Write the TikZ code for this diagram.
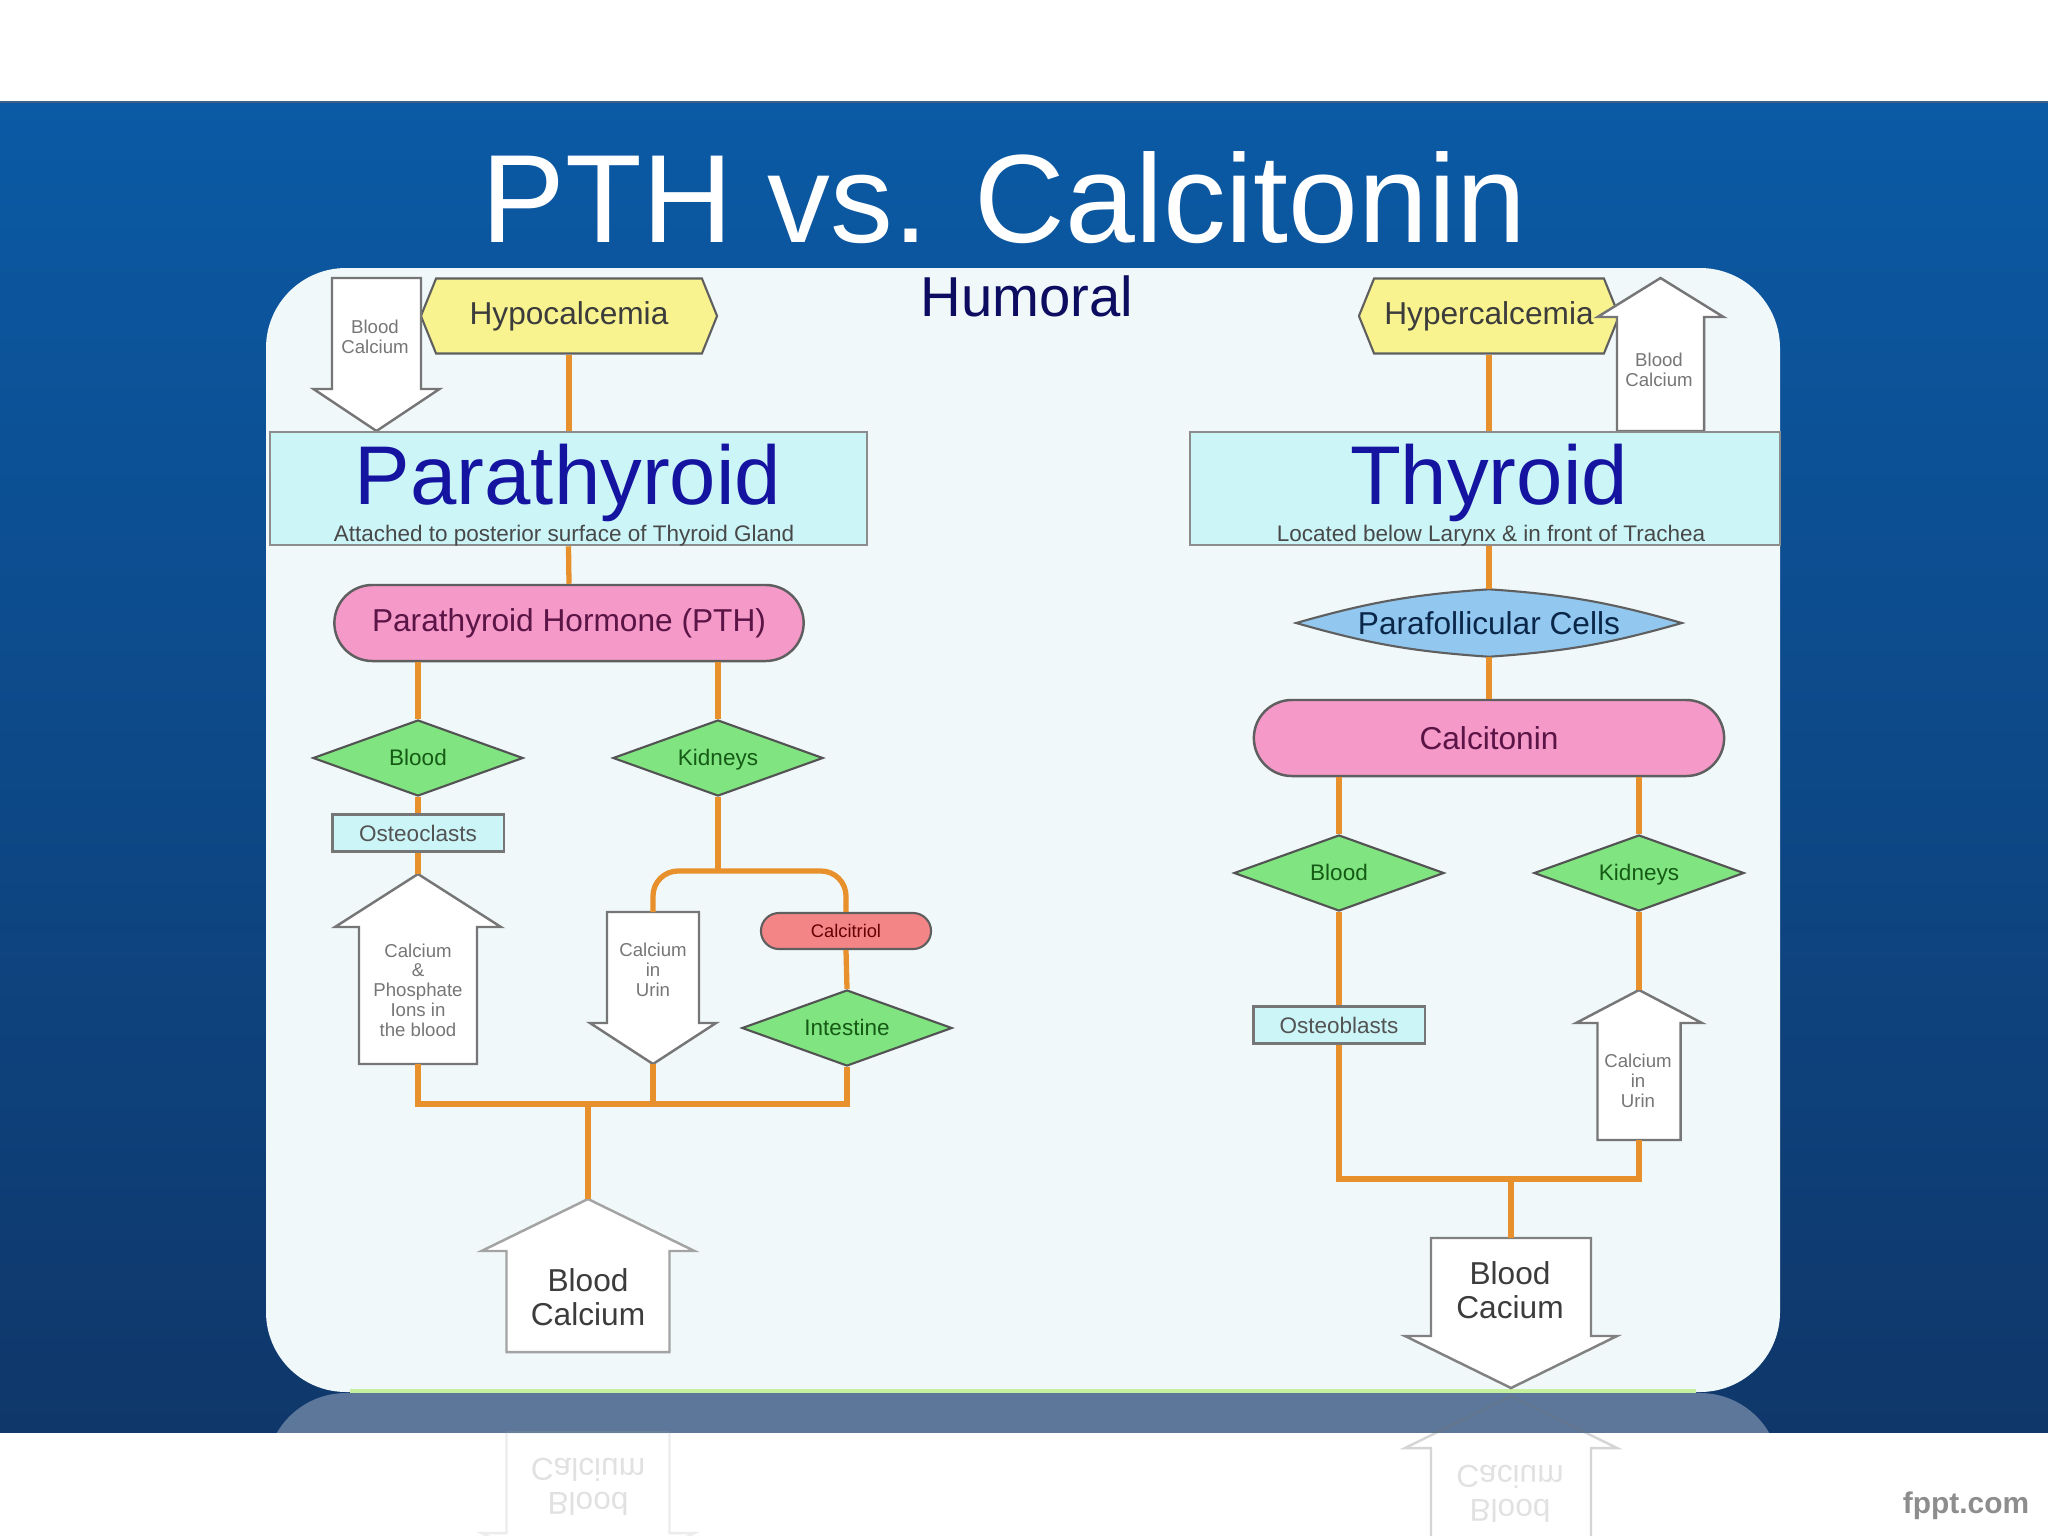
\documentclass[tikz,border=0pt]{standalone}
\usepackage{fontspec}
\setmainfont{Liberation Sans}
\setsansfont{Liberation Sans}
\usepackage{graphicx}
\usetikzlibrary{positioning,shapes.geometric,shapes.symbols,backgrounds}
\definecolor{ink}{HTML}{1A1A1A}
\definecolor{slidetop}{HTML}{0B5AA5}
\definecolor{slidebot}{HTML}{0F376A}
\definecolor{panel}{HTML}{F0F8FA}
\definecolor{wire}{HTML}{E8912C}
\definecolor{alarm}{HTML}{F8F38E}
\definecolor{gland}{HTML}{CCF5F8}
\definecolor{glandink}{HTML}{1414A0}
\definecolor{hormone}{HTML}{F599C9}
\definecolor{hormoneink}{HTML}{5A1446}
\definecolor{organ}{HTML}{80E480}
\definecolor{organink}{HTML}{155A15}
\definecolor{cells}{HTML}{92C8EF}
\definecolor{vitd}{HTML}{F48587}
\definecolor{glow}{HTML}{C6EFA0}

% block arrows: [opts]{name}{x}{tip}{head}{tail}{shaft half}{head half}
\newcommand\upblock[8][]{%
  \draw[blk,#1] (#3,#4) -- (#3+#8,#5) -- (#3+#7,#5) -- (#3+#7,#6)
    -- (#3-#7,#6) -- (#3-#7,#5) -- (#3-#8,#5) -- cycle;
  \coordinate (#2-tip) at (#3,#4);
  \coordinate (#2-foot) at (#3,#6);}
% [opts]{name}{x}{top}{head}{tip}{shaft half}{head half}
\newcommand\downblock[8][]{%
  \draw[blk,#1] (#3-#7,#4) -- (#3+#7,#4) -- (#3+#7,#5) -- (#3+#8,#5)
    -- (#3,#6) -- (#3-#8,#5) -- (#3-#7,#5) -- cycle;
  \coordinate (#2-top) at (#3,#4);
  \coordinate (#2-tip) at (#3,#6);}

\begin{document}
\begin{tikzpicture}[
  x=0.01cm, y=-0.01cm, font=\sffamily,
  wire/.style={draw=wire, line width=1.5pt},
  alarmbox/.style={signal, signal to=east and west, signal pointer angle=136,
                   draw=ink!70, fill=alarm, line width=.6pt, inner sep=0pt,
                   minimum width=2.96cm, minimum height=.75cm,
                   font=\fontsize{9}{10}\selectfont, text=ink!85},
  glandbox/.style={draw=ink!50, fill=gland, line width=.7pt, inner sep=0pt,
                   minimum height=1.13cm},
  glandname/.style={font=\fontsize{23.7}{26}\selectfont, text=glandink, inner sep=0pt},
  glandnote/.style={font=\fontsize{6.4}{7}\selectfont, text=ink!80, inner sep=0pt},
  hormonebox/.style={draw=ink!70, fill=hormone, rounded corners=.38cm, line width=.7pt,
                     minimum height=.76cm, font=\fontsize{9}{10}\selectfont, text=hormoneink},
  organbox/.style={diamond, aspect=2.8, draw=ink!75, fill=organ, line width=.6pt,
                   minimum width=2.1cm, minimum height=.76cm, inner sep=0pt,
                   text height=1.1ex, text depth=.25ex,
                   font=\fontsize{6.4}{7}\selectfont, text=organink},
  cellbox/.style={draw=ink!60, fill=gland, line width=.6pt, inner sep=0pt,
                  minimum width=1.71cm, minimum height=.37cm,
                  font=\fontsize{6.4}{7}\selectfont, text=ink!75},
  vitdbox/.style={draw=ink!70, fill=vitd, rounded corners=.18cm, line width=.6pt,
                  minimum width=1.7cm, minimum height=.36cm, inner sep=0pt,
                  font=\fontsize{5.2}{6}\selectfont, text=red!40!black},
  blk/.style={draw=ink!60, fill=white, line width=.7pt},
  blktxt/.style={align=center, font=\fontsize{5.3}{5.6}\selectfont, text=ink!60, inner sep=0pt},
  bigtxt/.style={align=center, font=\fontsize{9}{9.6}\selectfont, text=ink!85, inner sep=0pt},
]

%% ================= slide =================
\useasboundingbox (0,0) rectangle (2048,1536);
\fill[white] (0,0) rectangle (2048,1536);
\shade[top color=slidetop, bottom color=slidebot] (0,102) rectangle (2048,1432);
\draw[slidebot!80, line width=.8pt] (0,102) -- (2048,102);
\fill[panel, rounded corners=.8cm] (266,268) rectangle (1780,1392);
\draw[glow, line width=1pt] (350,1391) -- (1696,1391);

\node[font=\fontsize{35.7}{40}\selectfont, text=white, anchor=base] (title) at (1004,242) {PTH vs. Calcitonin};
\node[font=\fontsize{16}{18}\selectfont, text=glandink!60!black] (humoral) at (1027,296) {Humoral};
\node[font=\bfseries\fontsize{8.5}{10}\selectfont, text=ink!50] (brand) at (1966,1506) {fppt.com};

%% ================= left : parathyroid =================
\node[alarmbox] (hypo) at (569,316) {Hypocalcemia};
\downblock{dropL}{376.5}{278}{389}{431}{44.5}{63}
\node[blktxt] (dropLtxt) at (375,337) {Blood\\Calcium};

\node[glandbox, minimum width=5.97cm] (para) at (568.5,488.5) {};
\node[glandname, anchor=base] (paraname) at (568,504) {Parathyroid};
\node[glandnote, anchor=base] (paranote) at (564,541) {Attached to posterior surface of Thyroid Gland};

\node[hormonebox, minimum width=4.69cm] (pth) at (569,623) {Parathyroid Hormone (PTH)};
\node[organbox] (bloodL) at (418,758) {Blood};
\node[organbox] (kidL) at (718,758) {Kidneys};
\node[cellbox] (oclast) at (418,833) {Osteoclasts};

\upblock{ions}{418}{874}{927}{1064}{59}{83}
\node[blktxt] (ionstxt) at (418,990) {Calcium\\\&\\Phosphate\\Ions in\\the blood};
\downblock{urinL}{653}{912}{1023}{1064}{46}{63}
\node[blktxt] (urinLtxt) at (653,970) {Calcium\\in\\Urin};
\node[vitdbox] (ctriol) at (846,931) {Calcitriol};
\node[organbox] (gut) at (847,1028) {Intestine};

\upblock[draw=ink!40]{bcaL}{588}{1199}{1251}{1352}{81.5}{106.5}
\node[bigtxt] (bcaLtxt) at (588,1297) {Blood\\Calcium};

\coordinate (kbranch) at (718,871);
\coordinate (mergeL) at (588,1104);

\draw[wire] (hypo.south) -- (hypo.south |- para.north);
\draw[wire] (para.south) -- (pth.north);
\draw[wire] (pth.south -| bloodL) -- (bloodL.north);
\draw[wire] (pth.south -| kidL) -- (kidL.north);
\draw[wire] (bloodL.south) -- (oclast.north);
\draw[wire] (oclast.south) -- (ions-tip);
\draw[wire] (kidL.south) -- (kbranch);
\draw[wire, rounded corners=.25cm] (urinL-top) |- (kbranch) -| (ctriol.north);
\draw[wire] (ctriol.south) -- (gut.north);
\draw[wire] (ions-foot) |- (mergeL) -| (gut.south);
\draw[wire] (urinL-tip) -- (urinL-tip |- mergeL);
\draw[wire] (mergeL) -- (bcaL-tip);

%% ================= right : thyroid =================
\node[alarmbox, minimum width=2.6cm] (hyper) at (1489,316) {Hypercalcemia};
\upblock{riseR}{1660.5}{278}{317}{431}{43.5}{63}
\node[blktxt] (riseRtxt) at (1659,370) {Blood\\Calcium};

\node[glandbox, minimum width=5.9cm] (thy) at (1485,488.5) {};
\node[glandname, anchor=base] (thyname) at (1489,504) {Thyroid};
\node[glandnote, anchor=base] (thynote) at (1491,541) {Located below Larynx \& in front of Trachea};

\node[minimum width=3.84cm, minimum height=.66cm, inner sep=0pt] (pfc) at (1489,623) {};
\path[draw=ink!70, fill=cells, line width=.6pt]
  (pfc.west) to[bend left=6] (pfc.north) to[bend left=6] (pfc.east)
  to[bend left=6] (pfc.south) to[bend left=6] cycle;
\node[font=\fontsize{9}{10}\selectfont, text=slidebot!70!black] (pfctxt) at (pfc) {Parafollicular Cells};

\node[hormonebox, minimum width=4.7cm] (ctonin) at (1489,738) {Calcitonin};
\node[organbox] (bloodR) at (1339,873) {Blood};
\node[organbox] (kidR) at (1639,873) {Kidneys};
\node[cellbox] (oblast) at (1339,1025) {Osteoblasts};

\upblock{urinR}{1639}{990}{1023}{1140}{41.5}{63}
\node[blktxt] (urinRtxt) at (1638,1081) {Calcium\\in\\Urin};

\downblock[draw=ink!55]{bcaR}{1511}{1238}{1336}{1388}{80}{106}
\node[bigtxt] (bcaRtxt) at (1510,1290) {Blood\\Cacium};

\coordinate (mergeR) at (1511,1179);

\draw[wire] (hyper.south) -- (hyper.south |- thy.north);
\draw[wire] (thy.south -| pfc) -- (pfc.north);
\draw[wire] (pfc.south) -- (ctonin.north);
\draw[wire] (ctonin.south -| bloodR) -- (bloodR.north);
\draw[wire] (ctonin.south -| kidR) -- (kidR.north);
\draw[wire] (bloodR.south) -- (oblast.north);
\draw[wire] (kidR.south) -- (urinR-tip);
\draw[wire] (oblast.south) |- (mergeR) -| (urinR-foot);
\draw[wire] (mergeR) -- (bcaR-top);

%% ================= reflection =================
\begin{scope}
  \clip (0,1393) rectangle (2048,1536);
  \fill[white, opacity=.32, rounded corners=.8cm] (266,1393) rectangle (1780,2516);
  \downblock[draw=ink!40, fill=none, opacity=.2]{mirL}{588}{1432}{1533}{1585}{81.5}{106.5}
  \upblock[draw=ink!60, fill=none, opacity=.3]{mirR}{1511}{1396}{1448}{1546}{80}{106}
  \node[bigtxt, opacity=.15] (mirLtxt) at (588,1487) {\scalebox{1}[-1]{\shortstack{Blood\\Calcium}}};
  \node[bigtxt, opacity=.15] (mirRtxt) at (1510,1494) {\scalebox{1}[-1]{\shortstack{Blood\\Cacium}}};
\end{scope}

\end{tikzpicture}
\end{document}
